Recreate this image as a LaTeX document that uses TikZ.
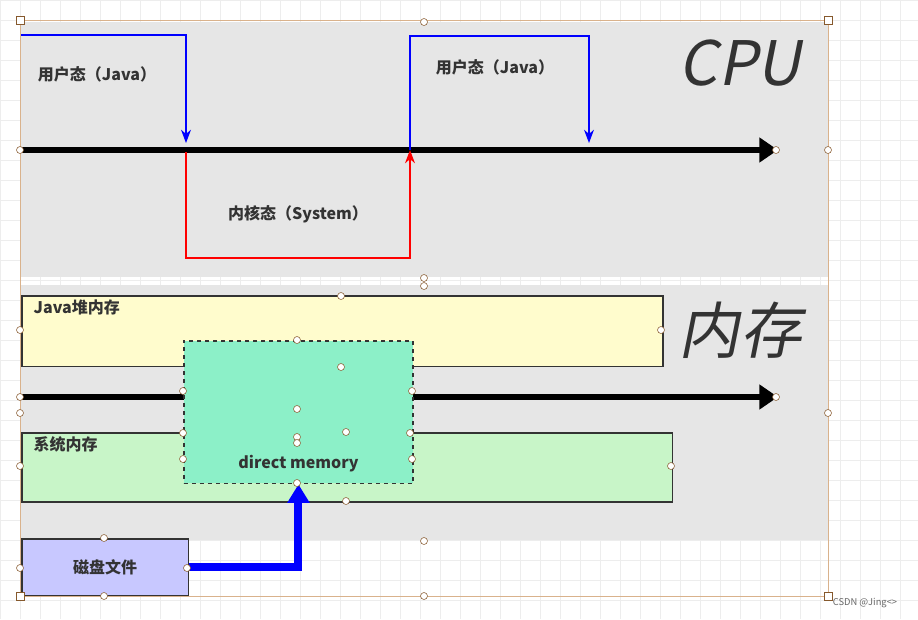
\documentclass[tikz,border=0pt]{standalone}
\usepackage{fontspec}
\setmainfont{Noto Sans CJK SC}
\newfontfamily\slantfont[FakeSlant=0.2]{Noto Sans CJK SC}
\usetikzlibrary{positioning,arrows.meta}
\definecolor{panel}{RGB}{230,230,230}
\definecolor{heap}{RGB}{255,252,205}
\definecolor{sysmem}{RGB}{200,245,200}
\definecolor{direct}{RGB}{140,240,200}
\definecolor{disk}{RGB}{200,200,255}
\tikzset{
  box/.style={draw=black!80, line width=1.2pt},
  lbl/.style={font=\bfseries\fontsize{12}{14}\selectfont, text=black!80},
  big/.style={font=\slantfont\fontsize{46}{50}\selectfont, text=black!80},
  timeline/.style={black, line width=5pt, -{Triangle[length=14pt,width=18pt]}},
  handle/.style={draw=brown!70!black, fill=white, thin},
}
\begin{document}
\begin{tikzpicture}[x=0.75pt,y=-0.75pt]
\useasboundingbox (0,0) rectangle (918,619);
\fill[white] (0,0) rectangle (918,619);

%\draw grid
\foreach \x in {0,20,...,900} \draw[black!7] (\x,0) -- (\x,619);
\foreach \y in {0,20,...,600} \draw[black!7] (0,\y) -- (918,\y);

\fill[panel] (20,22) rectangle (828,277);
\fill[panel] (20,285) rectangle (828,540);

% CPU
\draw[timeline] (20,150) -- (778,150);
\draw[blue, thick, -{Stealth[length=10pt]}] (20,35) -- (186,35) -- (186,143);
\draw[red, thick, -{Stealth[length=10pt]}] (186,152) -- (186,258) -- (410,258) -- (410,150);
\draw[blue, thick, -{Stealth[length=10pt]}] (410,150) -- (410,36) -- (589,36) -- (589,143);
\node[lbl] (user1) at (97,74) {用户态（Java）};
\node[lbl] (kern) at (298,214) {内核态（System）};
\node[lbl] (user2) at (495,67) {用户态（Java）};
\node[big] (cpu) at (740,63) {CPU};

% memory
\node[box, fill=heap, minimum width=481pt, minimum height=53pt, anchor=north west] (heapbox) at (21,295) {};
\node[lbl, anchor=north west] at ([xshift=6pt]heapbox.north west) {Java堆内存};
\node[big] (mem) at (740,330) {内存};
\draw[timeline] (20,397) -- (778,397);
\node[box, fill=sysmem, minimum width=488pt, minimum height=52pt, anchor=north west] (sysbox) at (21,432) {};
\node[lbl, anchor=north west] at ([xshift=6pt]sysbox.north west) {系统内存};
\node[box, dashed, fill=direct, minimum width=172pt, minimum height=107pt, anchor=north west] (dmem) at (183,340) {};
\node[lbl, anchor=south] at ([yshift=6pt]dmem.south) {direct memory};
\node[box, fill=disk, minimum width=125pt, minimum height=43pt, anchor=north west, lbl] (diskbox) at (21,538) {磁盘文件};
\draw[blue, line width=6pt, -{Triangle[length=14pt,width=16pt]}] (diskbox.east) -| (dmem.south);

% selection
\draw[brown!60, thin] (20,20) rectangle (828,596);
\foreach \p in {(20,150),(776,150),(828,150),(424,22),(424,278),(424,286),(20,330),(341,296),(661,330),(183,391),(412,391),(297,340),(341,367),(297,409),(346,432),(297,437),(297,443),(183,433),(410,433),(183,459),(412,459),(20,466),(671,466),(297,483),(346,501),(20,397),(20,413),(776,397),(828,413),(424,541),(104,538),(20,568),(187,568),(104,596),(424,596)}
  \draw[handle] \p circle (3.5);
\foreach \p in {(20,20),(828,20),(20,596),(828,596)}
  \draw[handle] \p ++(-4,-4) rectangle ++(8,8);
\node[font=\fontsize{7}{8}\selectfont, text=black!60] (credit) at (865,603) {CSDN @Jing<>};
\end{tikzpicture}
\end{document}
